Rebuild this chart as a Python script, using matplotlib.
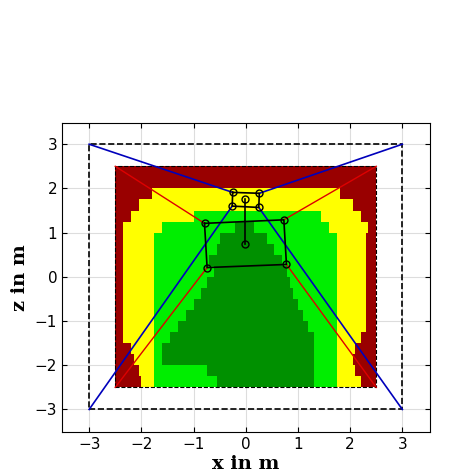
import matplotlib
matplotlib.use("Agg")
import matplotlib.pyplot as plt

# rows of 0.25 m from z=-2.5 upward: intervals [left,right]
row_z0 = [-2.5,-2.25,-2.0,-1.75,-1.5,-1.25,-1.0,-0.75,-0.5,-0.25,0.0,0.25,0.5,0.75,1.0,1.25,1.5,1.75,2.0,2.25]
yellow = [(-2.0,2.2),(-2.05,2.1),(-2.15,2.05),(-2.2,2.1),(-2.35,2.2),(-2.35,2.3),(-2.35,2.3),(-2.35,2.3),
          (-2.35,2.3),(-2.35,2.3),(-2.35,2.3),(-2.35,2.3),(-2.35,2.3),(-2.35,2.3),(-2.35,2.35),(-2.2,2.2),
          (-2.05,2.05),(-1.8,1.8),None,None]
green = [(-1.75,1.75)]*14 + [(-1.6,1.6),(-1.0,1.45),None,None,None,None]
dark = [(-0.55,1.3),(-0.75,1.3),(-1.6,1.3),(-1.6,1.3),(-1.45,1.3),(-1.3,1.2),(-1.15,1.1),(-1.0,1.0),
        (-0.85,0.9),(-0.75,0.85),(-0.6,0.8),(-0.7,0.7),(-0.55,0.55),(-0.5,0.4),(-0.2,0.15),None,None,None,None,None]

top_quad_x = [-0.25,0.26,0.25,-0.26]; top_quad_z = [1.91,1.89,1.57,1.60]
big_quad_x = [-0.79,0.73,0.78,-0.74]; big_quad_z = [1.21,1.29,0.28,0.21]
axis_x = [-0.01,-0.01]; axis_z = [1.75,0.74]
frame_outer_x = [-3,3,-3,3]; frame_outer_z = [3,3,-3,-3]
frame_inner_x = [-2.5,2.5,-2.5,2.5]; frame_inner_z = [2.5,2.5,-2.5,-2.5]

fig = plt.figure(figsize=(4.74,4.74), dpi=100)
ax = fig.add_axes([62/474, 1-432/474, 368/474, 309/474])
ax.set_axisbelow(True)
ax.grid(True, color='#dddddd', lw=0.8)
ax.add_patch(plt.Rectangle((-2.5,-2.5),5,5,color='#990000',lw=0,zorder=1))
for lst, c in [(yellow,'#ffff00'),(green,'#00ee00'),(dark,'#009000')]:
    for z0, iv in zip(row_z0, lst):
        if iv: ax.add_patch(plt.Rectangle((iv[0],z0),iv[1]-iv[0],0.25,color=c,lw=0,zorder=2))
ax.plot([-2.5,2.5,2.5,-2.5,-2.5],[-2.5,-2.5,2.5,2.5,-2.5],'k--',lw=0.8,zorder=3)
ax.plot([-3,3,3,-3,-3],[-3,-3,3,3,-3],'k--',lw=1.2,zorder=3)
order=[0,1,3,2]
for i in range(4):
    j=order[i]
    ax.plot([frame_outer_x[i],top_quad_x[j]],[frame_outer_z[i],top_quad_z[j]],color='#0000bb',lw=1.2,zorder=4)
    ax.plot([frame_inner_x[i],big_quad_x[j]],[frame_inner_z[i],big_quad_z[j]],color='#dd0000',lw=1.0,zorder=4)
ax.plot(top_quad_x+top_quad_x[:1], top_quad_z+top_quad_z[:1],'k-',lw=1.2,zorder=5)
ax.plot(big_quad_x+big_quad_x[:1], big_quad_z+big_quad_z[:1],'k-',lw=1.2,zorder=5)
ax.plot(axis_x, axis_z,'k-',lw=1.2,zorder=5)
ax.plot(top_quad_x+big_quad_x+axis_x, top_quad_z+big_quad_z+axis_z,'o',mfc='none',mec='k',ms=5,zorder=6)
ax.set_xlim(-3.52,3.53); ax.set_ylim(-3.51,3.48)
ax.set_xticks(range(-3,4)); ax.set_yticks(range(-3,4))
ax.tick_params(direction='in', top=True, right=True, labelsize=11)
ax.set_xlabel('x in m', family='DejaVu Serif', fontweight='bold', fontsize=14, labelpad=2)
ax.set_ylabel('z in m', family='DejaVu Serif', fontweight='bold', fontsize=14)
fig.savefig('out.png')
